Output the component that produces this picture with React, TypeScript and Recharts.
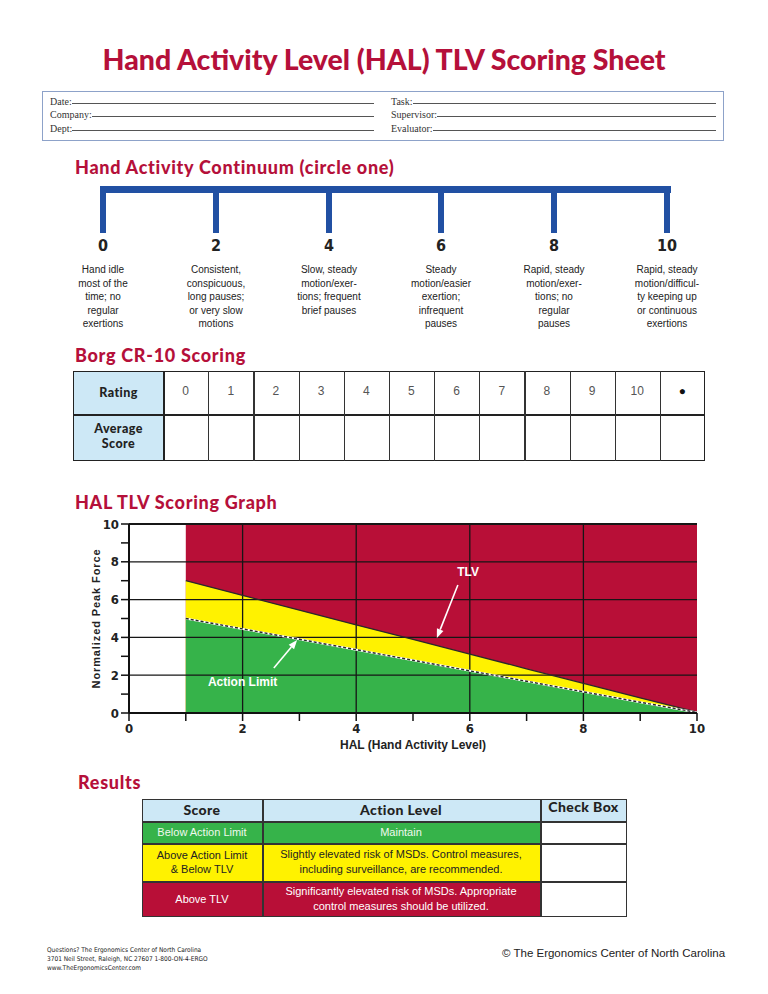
import React from 'react';
import { ComposedChart, Area, Line, XAxis, YAxis, ReferenceLine, ReferenceDot } from 'recharts';

const halLevels = [1, 2, 3, 4, 5, 6, 7, 8, 9, 10];
const tlvForce = [7.0, 6.22, 5.44, 4.66, 3.89, 3.12, 2.34, 1.57, 0.8, 0.05];
const actionLimitForce = [5.0, 4.45, 3.9, 3.35, 2.79, 2.23, 1.68, 1.12, 0.57, 0.03];
const forceMax = 10;
const axisTicks = [0, 1, 2, 3, 4, 5, 6, 7, 8, 9, 10];
const gridValues = [2, 4, 6, 8];

const continuumLevels = ['0', '2', '4', '6', '8', '10'];
const continuumText = [
  ['Hand idle', 'most of the', 'time; no', 'regular', 'exertions'],
  ['Consistent,', 'conspicuous,', 'long pauses;', 'or very slow', 'motions'],
  ['Slow, steady', 'motion/exer-', 'tions; frequent', 'brief pauses'],
  ['Steady', 'motion/easier', 'exertion;', 'infrequent', 'pauses'],
  ['Rapid, steady', 'motion/exer-', 'tions; no', 'regular', 'pauses'],
  ['Rapid, steady', 'motion/difficul-', 'ty keeping up', 'or continuous', 'exertions'],
];

const borgRatings = ['0', '1', '2', '3', '4', '5', '6', '7', '8', '9', '10', '●'];

const resultScores = ['Below Action Limit', 'Above Action Limit & Below TLV', 'Above TLV'];
const resultActions = [
  ['Maintain'],
  ['Slightly elevated risk of MSDs. Control measures,', 'including surveillance, are recommended.'],
  ['Significantly elevated risk of MSDs. Appropriate', 'control measures should be utilized.'],
];

const CRIMSON = '#B5103A';
const RED = '#B80F37';
const YELLOW = '#FFF200';
const GREEN = '#36B34A';
const BLUE = '#2150A3';
const LIGHTBLUE = '#CDE8F6';

const headFont = "Lato, 'Open Sans', Arial, sans-serif";
const bodyFont = "'Liberation Sans', Arial, sans-serif";
const narrowBold = "'Liberation Sans Narrow', 'DejaVu Sans Condensed', Arial, sans-serif";

const chartData = halLevels.map((h, i) => ({
  hal: h,
  top: forceMax,
  tlv: tlvForce[i],
  al: actionLimitForce[i],
}));

const XTick = (props: any) => {
  const { x, y, payload } = props;
  if (payload.value % 2 !== 0) return null;
  return <text x={x} y={y} dy="0.75em" textAnchor="middle" fontFamily={narrowBold} fontWeight="bold" fontSize={13} fill="#222">
      {payload.value}
    </text>;
};

const YTick = (props: any) => {
  const { x, y, payload } = props;
  if (payload.value % 2 !== 0) return null;
  return <text x={x} y={y} dy={4.5} textAnchor="end" fontFamily={narrowBold} fontWeight="bold" fontSize={13} fill="#222">
      {payload.value}
    </text>;
};

const Arrow = (props: any) => {
  const { x1, y1, x2, y2 } = props;
  const ang = Math.atan2(y2 - y1, x2 - x1);
  const len = 9;
  const w = 3.5;
  const bx = x2 - len * Math.cos(ang);
  const by = y2 - len * Math.sin(ang);
  const px = -Math.sin(ang) * w;
  const py = Math.cos(ang) * w;
  return <g>
      <line x1={x1} y1={y1} x2={bx} y2={by} stroke="#fff" strokeWidth={1.6} />
      <polygon points={`${x2},${y2} ${bx + px},${by + py} ${bx - px},${by - py}`} fill="#fff" />
    </g>;
};

const Heading = ({ text, left, top }: { text: string; left: number; top: number }) => <div style={{
  position: 'absolute',
  left,
  top,
  fontFamily: headFont,
  fontWeight: 900,
  fontSize: 18,
  letterSpacing: 0.7,
  color: CRIMSON,
  whiteSpace: 'nowrap',
  lineHeight: '20px'
}}>{text}</div>;

const HalChart = () => <ComposedChart width={660} height={250} data={chartData} margin={{
  top: 14,
  right: 23,
  left: 19,
  bottom: 7
}}>
    <XAxis dataKey="hal" type="number" domain={[0, 10]} ticks={axisTicks} interval={0} tick={<XTick />} tickSize={8} height={40} axisLine={{
    stroke: '#111',
    strokeWidth: 2
  }} tickLine={{
    stroke: '#111',
    strokeWidth: 1.5
  }} label={{
    content: (p: any) => {
      const vb = p.viewBox;
      return <text x={vb.x + vb.width / 2} y={vb.y + vb.height - 4} textAnchor="middle" fontFamily={bodyFont} fontWeight="bold" fontSize={12} fill="#222">
              HAL (Hand Activity Level)
            </text>;
    }
  }} />
    <YAxis type="number" domain={[0, 10]} ticks={axisTicks} interval={0} tick={<YTick />} tickSize={8} width={50} axisLine={{
    stroke: '#111',
    strokeWidth: 2
  }} tickLine={{
    stroke: '#111',
    strokeWidth: 1.5
  }} label={{
    content: (p: any) => {
      const vb = p.viewBox;
      const cx = vb.x + 17;
      const cy = vb.y + vb.height / 2;
      return <text x={cx} y={cy} transform={`rotate(-90 ${cx} ${cy})`} textAnchor="middle" dominantBaseline="central" fontFamily={bodyFont} fontWeight="bold" fontSize={11} letterSpacing={0.9} fill="#222">
              Normalized Peak Force
            </text>;
    }
  }} />
    <Area type="linear" dataKey="top" stroke="none" fill={RED} fillOpacity={1} isAnimationActive={false} />
    <Area type="linear" dataKey="tlv" stroke="none" fill={YELLOW} fillOpacity={1} isAnimationActive={false} />
    <Area type="linear" dataKey="al" stroke="none" fill={GREEN} fillOpacity={1} isAnimationActive={false} />
    {gridValues.map(v => <ReferenceLine key={`gx${v}`} x={v} stroke="#161616" strokeWidth={1.3} />)}
    {gridValues.map(v => <ReferenceLine key={`gy${v}`} y={v} stroke="#161616" strokeWidth={1.3} />)}
    <ReferenceLine y={10} stroke="#161616" strokeWidth={2} />
    <Line type="linear" dataKey="tlv" stroke="#2a2a2a" strokeWidth={1.3} dot={false} isAnimationActive={false} />
    <Line type="linear" dataKey="al" stroke="#ffffff" strokeWidth={2} dot={false} isAnimationActive={false} />
    <Line type="linear" dataKey="al" stroke="#2a2a2a" strokeWidth={1.4} strokeDasharray="3 2" dot={false} isAnimationActive={false} />
    <ReferenceLine segment={[{
    x: 5.79,
    y: 6.77
  }, {
    x: 5.42,
    y: 3.97
  }]} shape={<Arrow />} />
    <ReferenceLine segment={[{
    x: 2.55,
    y: 2.38
  }, {
    x: 2.96,
    y: 3.86
  }]} shape={<Arrow />} />
    <ReferenceDot x={5.97} y={7.46} r={0} fill="none" stroke="none" label={{
    value: 'TLV',
    position: 'center',
    fill: '#fff',
    fontSize: 12,
    fontWeight: 'bold',
    fontFamily: bodyFont
  }} />
    <ReferenceDot x={2.0} y={1.64} r={0} fill="none" stroke="none" label={{
    value: 'Action Limit',
    position: 'center',
    fill: '#fff',
    fontSize: 12,
    fontWeight: 'bold',
    fontFamily: bodyFont
  }} />
  </ComposedChart>;

const InfoLine = ({ label }: { label: string }) => <div style={{
  display: 'flex',
  alignItems: 'flex-end',
  height: 13.5
}}>
    <span style={{ whiteSpace: 'nowrap' }}>{label}</span>
    <div style={{ flex: 1, borderBottom: '1.5px solid #555', marginBottom: 3 }} />
  </div>;

export default function App() {
  const colX = [103, 216, 329, 441, 554, 667];
  const borgLeft = 163;
  const borgW = (705 - 163) / 12;
  const resRows = [[821, 843], [843, 881], [881, 917]];
  const resBg = [GREEN, YELLOW, RED];
  const resFg = ['#F0F8EE', '#222', '#fff'];
  return <div style={{
    position: 'absolute',
    left: 0,
    top: 0,
    width: 768,
    height: 994,
    background: '#fff',
    fontFamily: bodyFont,
    overflow: 'hidden'
  }}>
      {/* title */}
      <div style={{
      position: 'absolute',
      left: 0,
      top: 42,
      width: 768,
      textAlign: 'center',
      fontFamily: headFont,
      fontWeight: 900,
      fontSize: 28.5,
      color: CRIMSON,
      lineHeight: '34px',
      whiteSpace: 'nowrap'
    }}>Hand Activity Level (HAL) TLV Scoring Sheet</div>

      {/* info box */}
      <div style={{
      position: 'absolute',
      left: 42,
      top: 91,
      width: 680,
      height: 48,
      border: '1px solid #8DA2C9',
      fontFamily: "'Liberation Serif', 'Times New Roman', serif",
      fontSize: 10,
      color: '#333'
    }}>
        <div style={{ position: 'absolute', left: 7, top: 1, width: 324 }}>
          <InfoLine label="Date:" />
          <InfoLine label="Company:" />
          <InfoLine label="Dept:" />
        </div>
        <div style={{ position: 'absolute', left: 348, top: 1, width: 325 }}>
          <InfoLine label="Task:" />
          <InfoLine label="Supervisor:" />
          <InfoLine label="Evaluator:" />
        </div>
      </div>

      <Heading text="Hand Activity Continuum (circle one)" left={75} top={157} />

      {/* continuum bar */}
      <div style={{ position: 'absolute', left: 100, top: 186, width: 571, height: 7, background: BLUE }} />
      {colX.map((x, i) => <div key={i} style={{ position: 'absolute', left: x - 3, top: 186, width: 6, height: 47, background: BLUE }} />)}
      {continuumLevels.map((lv, i) => <div key={lv} style={{
      position: 'absolute',
      left: colX[i] - 50,
      top: 237,
      width: 100,
      textAlign: 'center',
      fontFamily: narrowBold,
      fontWeight: 'bold',
      fontSize: 16,
      color: '#222',
      lineHeight: '18px'
    }}>{lv}</div>)}
      {continuumText.map((lines, i) => <div key={i} style={{
      position: 'absolute',
      left: colX[i] - 50,
      top: 263,
      width: 100,
      textAlign: 'center',
      fontSize: 10,
      lineHeight: '13.5px',
      color: '#222'
    }}>
          {lines.map((l, j) => <div key={j}>{l}</div>)}
        </div>)}

      <Heading text="Borg CR-10 Scoring" left={75} top={345} />

      {/* borg table */}
      <div style={{ position: 'absolute', left: 73, top: 371, width: 632, height: 90, border: '1.5px solid #222', boxSizing: 'border-box' }} />
      <div style={{ position: 'absolute', left: 74, top: 372, width: 89, height: 88, background: LIGHTBLUE }} />
      <div style={{ position: 'absolute', left: 73, top: 414, width: 632, height: 1.5, background: '#222' }} />
      <div style={{ position: 'absolute', left: 163, top: 371, width: 1.5, height: 90, background: '#222' }} />
      {borgRatings.slice(1).map((_, i) => <div key={i} style={{ position: 'absolute', left: borgLeft + borgW * (i + 1), top: 371, width: 1.2, height: 90, background: '#333' }} />)}
      <div style={{ position: 'absolute', left: 74, top: 385, width: 89, textAlign: 'center', fontFamily: headFont, fontWeight: 900, fontSize: 12.5, letterSpacing: 0.4, color: '#222' }}>Rating</div>
      <div style={{ position: 'absolute', left: 74, top: 421, width: 89, textAlign: 'center', fontFamily: headFont, fontWeight: 900, fontSize: 12.5, letterSpacing: 0.4, lineHeight: '15px', color: '#222' }}>Average<br />Score</div>
      {borgRatings.map((r, i) => <div key={r} style={{
      position: 'absolute',
      left: borgLeft + borgW * i,
      top: 384,
      width: borgW,
      textAlign: 'center',
      fontSize: 12,
      color: r === '●' ? '#111' : '#555'
    }}>{r}</div>)}

      <Heading text="HAL TLV Scoring Graph" left={75} top={492} />

      <div style={{ position: 'absolute', left: 60, top: 510 }}>
        <HalChart />
      </div>

      <Heading text="Results" left={78} top={772} />

      {/* results table */}
      <div style={{ position: 'absolute', left: 142, top: 799, width: 399, height: 22, background: LIGHTBLUE }} />
      <div style={{ position: 'absolute', left: 541, top: 799, width: 86, height: 22, background: LIGHTBLUE }} />
      {resRows.map(([t, b], i) => <div key={i} style={{ position: 'absolute', left: 142, top: t, width: 399, height: b - t, background: resBg[i] }} />)}
      <div style={{ position: 'absolute', left: 142, top: 799, width: 485, height: 118, border: '1.5px solid #333', boxSizing: 'border-box' }} />
      {[262, 540].map(x => <div key={x} style={{ position: 'absolute', left: x, top: 799, width: 1.5, height: 118, background: '#333' }} />)}
      {[821, 843, 881].map(y => <div key={y} style={{ position: 'absolute', left: 142, top: y, width: 485, height: 1.5, background: '#333' }} />)}
      {['Score', 'Action Level'].map((h, i) => <div key={h} style={{
      position: 'absolute',
      left: i === 0 ? 142 : 262,
      top: 801,
      width: i === 0 ? 120 : 278,
      textAlign: 'center',
      fontFamily: headFont,
      fontWeight: 900,
      fontSize: 14,
      letterSpacing: 0.4,
      color: '#222'
    }}>{h}</div>)}
      <div style={{ position: 'absolute', left: 540, top: 798, width: 87, textAlign: 'center', fontFamily: headFont, fontWeight: 900, fontSize: 14, letterSpacing: 0.4, color: '#222' }}>Check Box</div>
      {resRows.map(([t, b], i) => <React.Fragment key={i}>
          <div style={{
        position: 'absolute',
        left: 142,
        top: t,
        width: 120,
        height: b - t,
        display: 'flex',
        alignItems: 'center',
        justifyContent: 'center',
        textAlign: 'center',
        fontSize: 11,
        lineHeight: '14px',
        color: resFg[i]
      }}>
            <div>{i === 1 ? <>Above Action Limit<br />&amp; Below TLV</> : resultScores[i]}</div>
          </div>
          <div style={{
        position: 'absolute',
        left: 262,
        top: t,
        width: 278,
        height: b - t,
        display: 'flex',
        alignItems: 'center',
        justifyContent: 'center',
        textAlign: 'center',
        fontSize: 11,
        lineHeight: '15px',
        color: resFg[i]
      }}>
            <div>{resultActions[i].map((l, j) => <div key={j}>{l}</div>)}</div>
          </div>
        </React.Fragment>)}

      {/* footer */}
      <div style={{ position: 'absolute', left: 47, top: 946, fontSize: 6.5, lineHeight: '9px', color: '#222', fontFamily: narrowBold }}>
        <div>Questions? The Ergonomics Center of North Carolina</div>
        <div>3701 Neil Street, Raleigh, NC 27607  1-800-ON-4-ERGO</div>
        <div>www.TheErgonomicsCenter.com</div>
      </div>
      <div style={{ position: 'absolute', left: 502, top: 947, fontSize: 11.5, color: '#222', whiteSpace: 'nowrap' }}>
        © The Ergonomics Center of North Carolina
      </div>
    </div>;
}
